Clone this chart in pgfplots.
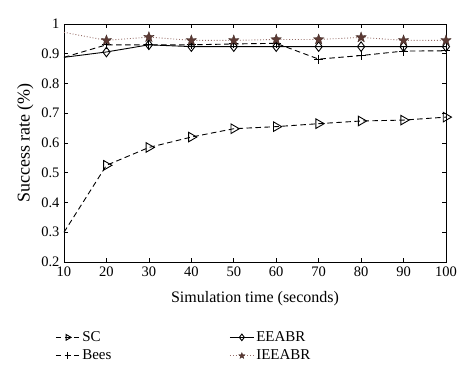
\documentclass[border=0pt]{standalone}
\usepackage{pgfplots}
\pgfplotsset{compat=1.18}
\usepackage{fontspec}
\setmainfont{Liberation Serif}
\definecolor{starbrown}{RGB}{92,58,52}
\definecolor{dotbrown}{RGB}{150,110,105}
\pgfdeclareplotmark{fstar}{%
  \pgfpathmoveto{\pgfpointpolar{90}{\pgfplotmarksize}}%
  \pgfpathlineto{\pgfpointpolar{126}{0.42\pgfplotmarksize}}%
  \pgfpathlineto{\pgfpointpolar{162}{\pgfplotmarksize}}%
  \pgfpathlineto{\pgfpointpolar{198}{0.42\pgfplotmarksize}}%
  \pgfpathlineto{\pgfpointpolar{234}{\pgfplotmarksize}}%
  \pgfpathlineto{\pgfpointpolar{270}{0.42\pgfplotmarksize}}%
  \pgfpathlineto{\pgfpointpolar{306}{\pgfplotmarksize}}%
  \pgfpathlineto{\pgfpointpolar{342}{0.42\pgfplotmarksize}}%
  \pgfpathlineto{\pgfpointpolar{18}{\pgfplotmarksize}}%
  \pgfpathlineto{\pgfpointpolar{54}{0.42\pgfplotmarksize}}%
  \pgfpathclose\pgfusepathqfillstroke}
\begin{document}
\begin{tikzpicture}
\path (-64pt,-117pt) rectangle (410pt,262pt);
\begin{axis}[
  at={(0,0)}, anchor=south west,
  scale only axis, width=382pt, height=238pt,
  xmin=10, xmax=100, ymin=0.2, ymax=1,
  xtick={10,20,...,100}, ytick={0.2,0.3,...,1.0},
  yticklabels={0.2,0.3,0.4,0.5,0.6,0.7,0.8,0.9,1},
  tick align=inside, tick pos=both,
  major tick length=4pt,
  /pgf/number format/assume math mode=true,
  xticklabel style={font=\fontsize{14.5}{16}\selectfont, yshift=-1pt},
  yticklabel style={font=\fontsize{14.5}{16}\selectfont, xshift=-1pt},
  xlabel={\fontsize{16}{19}\selectfont Simulation time (seconds)},
  ylabel={\fontsize{18}{21}\selectfont Success rate (\%)},
  every axis x label/.style={at={(0.5,0)}, anchor=north, yshift=-26pt},
  every axis y label/.style={at={(0,0.5)}, anchor=south, rotate=90, yshift=27pt},
  legend style={draw=none, fill=none, at={(-0.031,-0.275)}, anchor=north west,
    font=\fontsize{15}{17}\selectfont,
    /tikz/every even column/.append style={column sep=116pt},
    row sep=3pt},
  legend columns=2, transpose legend, legend cell align=left,
  legend image code/.code={%
    \draw[#1] plot coordinates {(0pt,0pt) (12pt,0pt) (24pt,0pt)};},
  legend image post style={mark size=3.3pt, mark indices={2}},
  axis line style={line width=0.7pt},
  every tick/.style={black, line width=0.6pt},
  clip=false,
]
\addplot[black, dash pattern=on 5.5pt off 3.5pt, line width=0.9pt, mark=triangle, mark size=5.5pt, mark options={solid, rotate=-90, fill=white}, mark indices={2,3,4,5,6,7,8,9,10}]
  coordinates {(10,0.30) (20,0.525) (30,0.585) (40,0.62) (50,0.648) (60,0.655) (70,0.665) (80,0.674) (90,0.677) (100,0.687)};
\addplot[black, dash pattern=on 5.5pt off 3.5pt, line width=0.9pt, mark=+, mark size=4.5pt, mark options={solid}, mark indices={2,3,4,5,6,7,8,9,10}]
  coordinates {(10,0.888) (20,0.930) (30,0.930) (40,0.930) (50,0.933) (60,0.935) (70,0.882) (80,0.894) (90,0.909) (100,0.910)};
\addplot[black, solid, line width=0.9pt, mark=diamond, mark size=4.8pt, mark options={solid, fill=white}, mark indices={2,3,4,5,6,7,8,9,10}]
  coordinates {(10,0.888) (20,0.906) (30,0.930) (40,0.924) (50,0.924) (60,0.924) (70,0.924) (80,0.924) (90,0.924) (100,0.924)};
\addplot[dotbrown, dotted, line width=0.9pt, mark=fstar, mark size=5.5pt, mark options={solid, draw=starbrown!70!black, fill=starbrown, line width=0.3pt}, mark indices={2,3,4,5,6,7,8,9,10}]
  coordinates {(10,0.972) (20,0.945) (30,0.956) (40,0.945) (50,0.945) (60,0.948) (70,0.948) (80,0.955) (90,0.945) (100,0.945)};
\legend{SC, Bees, EEABR, IEEABR}
\end{axis}
\end{tikzpicture}
\end{document}
